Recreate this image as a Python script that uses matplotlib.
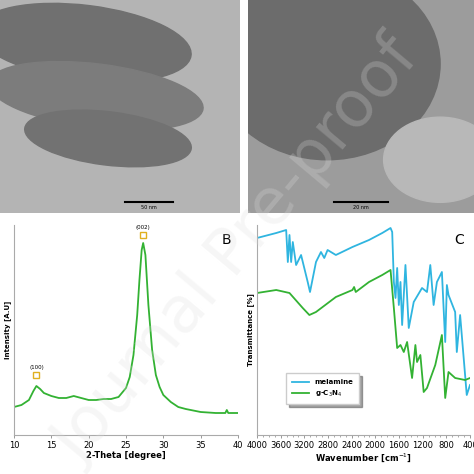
import numpy as np
import matplotlib.pyplot as plt
from matplotlib.patches import Ellipse

# XRD (panel B)
xrd_theta = [10, 11, 12, 12.6, 13, 13.5, 14, 15, 16, 17, 18, 19, 20, 21, 22, 23, 24, 25,
             25.5, 26, 26.5, 26.8, 27.1, 27.3, 27.6, 28, 28.5, 29, 29.5, 30, 31, 32, 33,
             35, 37, 38.3, 38.5, 38.7, 40]
xrd_int = [28, 30, 35, 44, 49, 46, 42, 39, 37, 37, 39, 37, 35, 35, 36, 36, 38, 47,
           58, 80, 120, 155, 185, 192, 180, 130, 85, 60, 48, 40, 33, 28, 26,
           23, 22, 22, 25, 22, 22]

# FTIR (panel C)
mel_wn = [4000, 3675, 3507, 3479, 3451, 3423, 3395, 3339, 3255, 3143, 3104, 3003, 2919,
          2863, 2807, 2667, 2387, 2107, 1883, 1743, 1715, 1687, 1659, 1631, 1603, 1575,
          1547, 1491, 1435, 1351, 1211, 1127, 1071, 1015, 959, 875, 819, 791, 763, 651,
          623, 567, 511, 455, 400]
mel_t = [197, 202, 205, 173, 200, 173, 193, 170, 180, 153, 143, 173, 183,
         177, 185, 180, 188, 195, 202, 207, 203, 153, 137, 167, 130, 153,
         110, 170, 107, 133, 147, 143, 170, 130, 153, 163, 93, 150, 140, 123,
         83, 120, 80, 40, 50]
gcn_wn = [4000, 3675, 3451, 3227, 3115, 3003, 2667, 2387, 2359, 2331, 2107, 1883, 1743,
          1687, 1631, 1575, 1519, 1463, 1379, 1323, 1295, 1239, 1183, 1127, 987, 875,
          819, 763, 651, 483, 400]
gcn_t = [142, 145, 142, 127, 120, 123, 138, 145, 148, 143, 153, 160, 165,
         127, 87, 90, 83, 93, 57, 90, 73, 80, 43, 47, 70, 100,
         37, 63, 57, 55, 57]

green = "#33b233"
blue = "#2fb5e0"
W = 474

fig = plt.figure(figsize=(4.74, 4.74), dpi=100)


def px(x0, y0, x1, y1):
    return [x0 / W, 1 - y1 / W, (x1 - x0) / W, (y1 - y0) / W]


# TEM images (grey placeholders)
ax_img1 = fig.add_axes(px(0, 0, 240, 213))
ax_img1.add_patch(plt.Rectangle((0, 0), 1, 1, color="#b4b4b4"))
for cx, cy, w, h, c in [(0.35, 0.8, 0.9, 0.35, "#707070"), (0.4, 0.55, 0.9, 0.3, "#7c7c7c"),
                        (0.45, 0.35, 0.7, 0.25, "#727272")]:
    ax_img1.add_patch(Ellipse((cx, cy), w, h, angle=-8, color=c))
ax_img1.plot([0.52, 0.72], [0.05, 0.05], color="k", lw=1.5)
ax_img1.text(0.62, 0.015, "50 nm", ha="center", va="bottom", fontsize=3.5)
ax_img1.set_xlim(0, 1); ax_img1.set_ylim(0, 1); ax_img1.axis("off")

ax_img2 = fig.add_axes(px(248, 0, 474, 213))
ax_img2.add_patch(plt.Rectangle((0, 0), 1, 1, color="#9c9c9c"))
ax_img2.add_patch(Ellipse((0.35, 0.7), 1.0, 0.9, color="#6c6c6c"))
ax_img2.add_patch(Ellipse((0.85, 0.25), 0.5, 0.4, color="#b8b8b8"))
ax_img2.plot([0.38, 0.62], [0.05, 0.05], color="k", lw=1.5)
ax_img2.text(0.5, 0.015, "20 nm", ha="center", va="bottom", fontsize=3.5)
ax_img2.set_xlim(0, 1); ax_img2.set_ylim(0, 1); ax_img2.axis("off")

# Panel B
axb = fig.add_axes(px(14, 225, 238, 435))
axb.plot(xrd_theta, xrd_int, color=green, lw=1.3)
axb.set_xlim(10, 40)
axb.set_ylim(0, 210)
axb.set_xticks(range(10, 41, 5))
axb.set_yticks([])
axb.plot([13], [60], marker="s", mfc="none", mec="#e0b020", ms=4, mew=1)
axb.plot([27.3], [200], marker="s", mfc="none", mec="#e0b020", ms=4, mew=1)
axb.text(13, 65, "(100)", ha="center", va="bottom", fontsize=4)
axb.text(27.3, 205, "(002)", ha="center", va="bottom", fontsize=4)
axb.text(0.97, 0.93, "B", transform=axb.transAxes, ha="right", va="center", fontsize=10)
axb.set_xlabel("2-Theta [degree]", fontsize=6, fontweight="bold", labelpad=1)
axb.set_ylabel("Intensity [A.U]", fontsize=5, fontweight="bold", labelpad=2)

# Panel C
axc = fig.add_axes(px(257, 225, 470, 435))
axc.plot(mel_wn, mel_t, color=blue, lw=1.3, label="melamine")
axc.plot(gcn_wn, gcn_t, color=green, lw=1.3, label="g-C$_3$N$_4$")
axc.set_xlim(4000, 400)
axc.set_ylim(0, 210)
axc.set_xticks(range(4000, 399, -400))
axc.set_xticks(range(4000, 399, -100), minor=True)
axc.set_yticks([])
axc.text(0.97, 0.93, "C", transform=axc.transAxes, ha="right", va="center", fontsize=10)
axc.set_xlabel("Wavenumber [cm$^{-1}$]", fontsize=6, fontweight="bold", labelpad=1)
axc.set_ylabel("Transmittance [%]", fontsize=5, fontweight="bold", labelpad=2)
leg = axc.legend(loc="lower left", bbox_to_anchor=(0.12, 0.13), fontsize=5,
                 fancybox=False, shadow=True, handlelength=2.5, borderpad=0.8)
leg.get_frame().set_edgecolor("#cccccc")
for t in leg.get_texts():
    t.set_fontweight("bold")

for ax in (axb, axc):
    for s in ("top", "right"):
        ax.spines[s].set_visible(False)
    for s in ("left", "bottom"):
        ax.spines[s].set_color("#aaaaaa")
    ax.tick_params(axis="x", labelsize=6, length=2, width=0.6, color="#888888", pad=2)
    ax.tick_params(axis="x", which="minor", length=1.2, width=0.5, color="#888888")

fig.text(0.5, 0.47, "Journal Pre-proof", fontsize=46, color="#dddddd", alpha=0.25,
         rotation=50, ha="center", va="center", zorder=10)

fig.savefig("out.png", dpi=100)
